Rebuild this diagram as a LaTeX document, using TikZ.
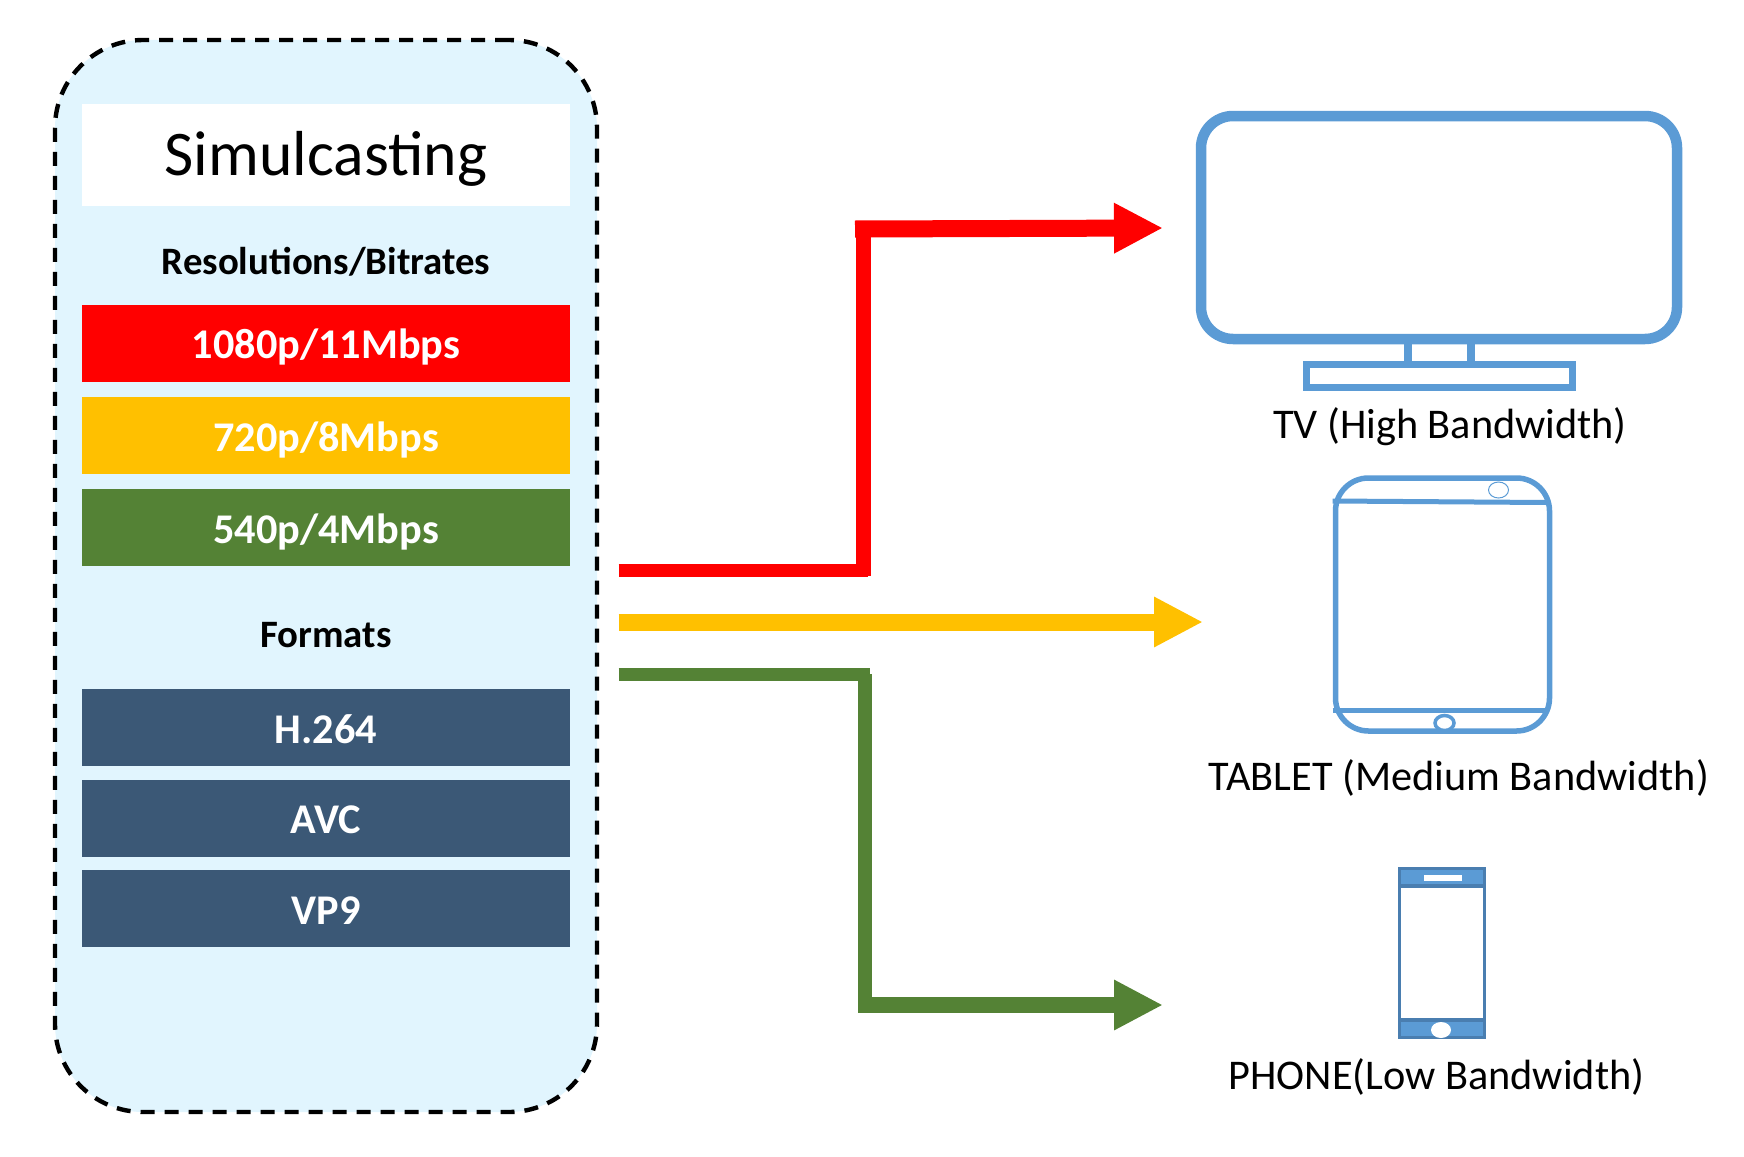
\documentclass[tikz,border=0pt]{standalone}
\usepackage{fontspec}
\setmainfont{Carlito}
\usepackage{xcolor}
\usetikzlibrary{arrows.meta,shapes.geometric}
\definecolor{panelblue}{HTML}{E1F5FE}
\definecolor{redbar}{HTML}{FF0000}
\definecolor{amberbar}{HTML}{FFC000}
\definecolor{greenbar}{HTML}{548235}
\definecolor{slatebar}{HTML}{3B5876}
\definecolor{iconblue}{HTML}{5B9BD5}
\definecolor{icondark}{HTML}{4A7EB0}
\tikzset{
  bar/.style={rectangle,minimum width=488pt,minimum height=77pt,inner sep=0pt,text=white,text height=31.5pt,text depth=0pt,font=\fontsize{42.3}{42}\selectfont\bfseries},
  heading/.style={inner sep=0pt,font=\fontsize{38.8}{39}\selectfont\bfseries},
  devlabel/.style={inner sep=0pt,font=\fontsize{42.3}{42}\selectfont},
  head/.style={-{Triangle[length=49pt,width=47pt]}},
}
\begin{document}
\begin{tikzpicture}[x=1pt,y=-1pt]
\useasboundingbox (0,0) rectangle (1744,1156);
% panel
\node (panel) at (326,576) [rectangle,rounded corners=88pt,minimum width=542pt,minimum height=1072pt,fill=panelblue,draw=black,line width=4.4pt,dash pattern=on 14pt off 10pt] {};
\node (title) at (326,155) [rectangle,fill=white,minimum width=488pt,minimum height=102pt,inner sep=0pt,text height=41pt,text depth=0pt,font=\fontsize{63.6}{64}\selectfont] {Simulcasting};
\node (reshead) at (326,262) [heading] {Resolutions/Bitrates};
\node (fmthead) at (326,635) [heading] {Formats};
\foreach \nm/\yy/\col/\txt in {hd/343/redbar/1080p\slash 11Mbps,mid/435.5/amberbar/720p\slash 8Mbps,low/527.5/greenbar/540p\slash 4Mbps,hcod/727.5/slatebar/H.264,acod/818/slatebar/AVC,vcod/908.5/slatebar/VP9}
  \node (\nm) at (326,\yy) [bar,fill=\col] {\txt};
% tv
\node (tvstem) at (1439.5,352) [rectangle,draw=iconblue,line width=8pt,minimum width=63pt,minimum height=26pt,inner sep=0pt] {};
\node (tvbase) at (1439.5,376) [rectangle,draw=iconblue,line width=7pt,fill=white,minimum width=266pt,minimum height=23pt,inner sep=0pt] {};
\node (tvscreen) at (1439,227.5) [rectangle,rounded corners=32pt,draw=iconblue,line width=10.5pt,fill=white,minimum width=476pt,minimum height=223pt,inner sep=0pt] {};
\node (tvtext) at (1450,427) [devlabel] {TV (High Bandwidth)};
% tablet
\node (tabbody) at (1442.5,604.5) [rectangle,rounded corners=33pt,draw=iconblue,line width=5.5pt,minimum width=214pt,minimum height=253pt,inner sep=0pt] {};
\coordinate (tabtopl) at (1332.5,501);
\coordinate (tabtopr) at (1546.5,502.5);
\coordinate (tabbotl) at (1332.5,710);
\coordinate (tabbotr) at (1546.5,710);
\draw[iconblue,line width=5pt] (tabtopl)--(tabtopr);
\draw[iconblue,line width=5pt] (tabbotl)--(tabbotr);
\node (tabcam) at (1498.5,490) [ellipse,draw=iconblue,line width=1pt,minimum width=20pt,minimum height=16pt,inner sep=0pt] {};
\node (tabhome) at (1444.5,723) [ellipse,draw=iconblue,fill=white,line width=3.5pt,minimum width=19pt,minimum height=15pt,inner sep=0pt] {};
\node (tabtext) at (1459,778) [devlabel] {TABLET (Medium Bandwidth)};
% phone
\node (phbody) at (1442,953) [rectangle,draw=icondark,fill=iconblue,line width=3.5pt,minimum width=85pt,minimum height=169pt,inner sep=0pt] {};
\node (phscreen) at (1442,953) [rectangle,draw=icondark,fill=white,line width=3.5pt,minimum width=85pt,minimum height=134pt,inner sep=0pt] {};
\node (phspeak) at (1443,878) [rectangle,fill=white,minimum width=38pt,minimum height=6pt,inner sep=0pt] {};
\node (phhome) at (1441,1030) [ellipse,fill=white,minimum width=20pt,minimum height=16pt,inner sep=0pt] {};
\node (phtext) at (1436.5,1077) [devlabel] {PHONE(Low Bandwidth)};
% arrows
\coordinate (redstart) at (618.5,570);
\coordinate (redlow) at (868,570);
\coordinate (redbot) at (863,576);
\coordinate (redup) at (863,229);
\coordinate (redtop) at (855,229);
\coordinate (redend) at (1163,228);
\coordinate (ambstart) at (618.5,622);
\coordinate (ambend) at (1203,622);
\coordinate (grnstart) at (618.5,674);
\coordinate (grnlow) at (870,674);
\coordinate (grntop) at (865,674);
\coordinate (grnbot) at (865,1012);
\coordinate (grnleft) at (858,1005);
\coordinate (grnend) at (1163,1005);
\draw[redbar,line width=13pt] (redstart)--(redlow);
\draw[redbar,line width=15pt] (redbot)--(redup);
\draw[redbar,line width=17pt,head] (redtop)--(redend);
\draw[amberbar,line width=17pt,head] (ambstart)--(ambend);
\draw[greenbar,line width=13pt] (grnstart)--(grnlow);
\draw[greenbar,line width=14pt] (grntop)--(grnbot);
\draw[greenbar,line width=16pt,head] (grnleft)--(grnend);
\end{tikzpicture}
\end{document}
